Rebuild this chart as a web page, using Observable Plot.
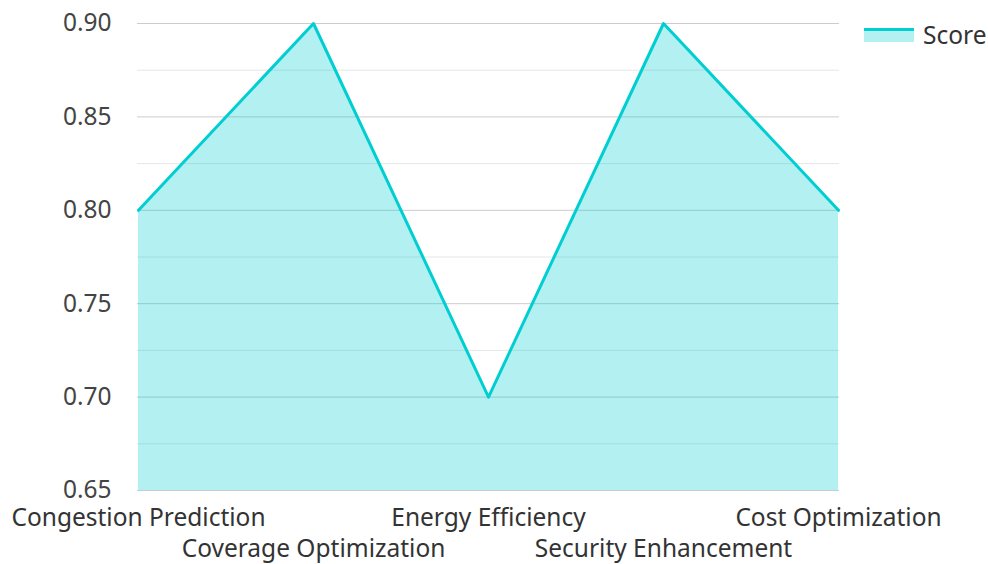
<!DOCTYPE html>
<html><head><meta charset="utf-8">
<script src="https://cdn.jsdelivr.net/npm/d3@7"></script>
<script src="https://cdn.jsdelivr.net/npm/@observablehq/plot@0.6"></script>
<style>
html,body{margin:0;padding:0;background:#fff;}
#wrap{position:relative;width:988px;height:564px;font-family:"Noto Sans",sans-serif;}
#legend{position:absolute;left:864px;top:18px;display:flex;align-items:center;font-size:24.5px;color:#333;}
#legend .sw{width:50px;height:14px;position:relative;margin-right:9px;background:rgba(0,206,209,0.3);}
#legend .sw::before{content:"";position:absolute;left:0;top:0;width:50px;height:3px;background:#00CED1;}
</style></head>
<body><div id="wrap"><div id="legend"><span class="sw"></span><span>Score</span></div></div>
<script>
const categories = ["Congestion Prediction","Coverage Optimization","Energy Efficiency","Security Enhancement","Cost Optimization"];
const scores = [0.80, 0.90, 0.70, 0.90, 0.80];
const majorTicks = [0.65, 0.70, 0.75, 0.80, 0.85, 0.90];
const minorTicks = [0.675, 0.725, 0.775, 0.825, 0.875];
const data = categories.map((c,i)=>({category:c, score:scores[i]}));
const chart = Plot.plot({
  width: 988, height: 564,
  marginLeft: 137, marginRight: 149, marginTop: 23, marginBottom: 74,
  style: {fontFamily: "'Noto Sans', sans-serif", fontSize: "24.5px", color: "#444"},
  x: {type: "point", domain: categories, padding: 0},
  y: {domain: [0.65, 0.90]},
  marks: [
    Plot.ruleY(minorTicks, {stroke: "#e6e6e6", strokeWidth: 1}),
    Plot.ruleY(majorTicks, {stroke: "#cccccc", strokeWidth: 1}),
    Plot.areaY(data, {x: "category", y1: 0.65, y2: "score", fill: "#00CED1", fillOpacity: 0.3}),
    Plot.lineY(data, {x: "category", y: "score", stroke: "#00CED1", strokeWidth: 3}),
    Plot.axisY(majorTicks, {tickSize: 0, tickPadding: 26, tickFormat: d3.format(".2f"), label: null, fill: "#444", fontSize: 24.5}),
    Plot.axisX(categories.filter((d,i)=>i%2===0), {tickSize: 0, tickPadding: 18, label: null, fill: "#333", fontSize: 24.5}),
    Plot.axisX(categories.filter((d,i)=>i%2===1), {tickSize: 0, tickPadding: 49, label: null, fill: "#333", fontSize: 24.5})
  ]
});
document.getElementById("wrap").prepend(chart);
</script></body></html>
